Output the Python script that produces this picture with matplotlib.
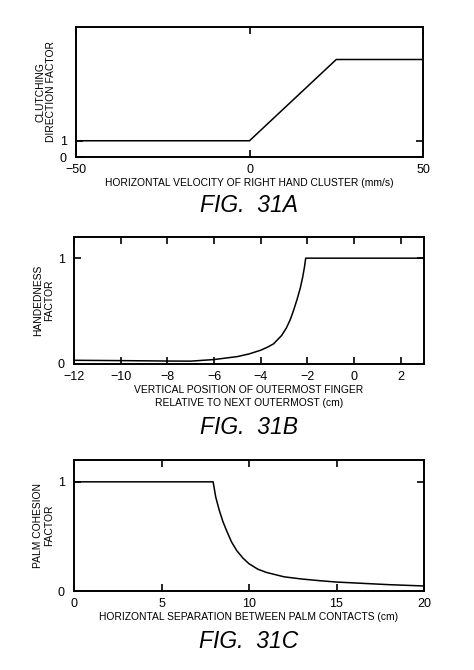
import matplotlib
matplotlib.use("Agg")
import matplotlib.pyplot as plt

plt.rcParams['font.family'] = ['Liberation Sans', 'DejaVu Sans']

# FIG. 31A - clutching direction factor vs horizontal velocity
vel = [-50, 0, 25, 50]
clutch = [1, 1, 6, 6]

# FIG. 31B - handedness factor vs vertical position
vpos = [-12, -10, -8, -7, -6, -5, -4.5, -4, -3.7, -3.45, -3.1, -2.9,
        -2.73, -2.6, -2.44, -2.3, -2.2, -2.12, -2.07, 3]
handed = [0.035, 0.032, 0.028, 0.027, 0.042, 0.07, 0.095, 0.13, 0.16,
          0.19, 0.27, 0.34, 0.42, 0.5, 0.61, 0.72, 0.82, 0.92, 1.0, 1.0]

# FIG. 31C - palm cohesion factor vs horizontal separation
sep = [0, 7.95, 8.1, 8.3, 8.5, 8.7, 9.0, 9.3, 9.66, 10.0, 10.5, 11.0,
       12.0, 13.0, 14.0, 15.0, 16.5, 18.0, 20.0]
cohesion = [1, 1, 0.86, 0.74, 0.64, 0.56, 0.45, 0.37, 0.30, 0.25, 0.2,
            0.17, 0.13, 0.11, 0.095, 0.082, 0.07, 0.058, 0.046]

LABEL_FS, TICK_FS, FIG_FS = 7.4, 9, 16.5

W, H = 474, 670
fig = plt.figure(figsize=(W / 100, H / 100), dpi=100)


def px_axes(x0, y0, x1, y1):
    return fig.add_axes([x0 / W, 1 - y1 / H, (x1 - x0) / W, (y1 - y0) / H])


def style(ax):
    for s in ax.spines.values():
        s.set_linewidth(1.4)
    ax.tick_params(direction='in', length=5, width=1.2, top=True, right=True,
                   labelsize=TICK_FS)
    ax.tick_params(axis='x', pad=5)
    ax.tick_params(axis='y', pad=6.5)


panels = [
    dict(box=(76, 27, 423, 157), x=vel, y=clutch, xlim=(-50, 50), ylim=(0, 8),
         xticks=[-50, 0, 50], ylabel="CLUTCHING\nDIRECTION FACTOR",
         xlabel="HORIZONTAL VELOCITY OF RIGHT HAND CLUSTER (mm/s)",
         fig="FIG.  31A", figy=205),
    dict(box=(74, 237, 424, 364), x=vpos, y=handed, xlim=(-12, 3), ylim=(0, 1.2),
         xticks=[-12, -10, -8, -6, -4, -2, 0, 2], ylabel="HANDEDNESS\nFACTOR",
         xlabel="VERTICAL POSITION OF OUTERMOST FINGER\nRELATIVE TO NEXT OUTERMOST (cm)",
         fig="FIG.  31B", figy=427),
    dict(box=(74, 460, 424, 591), x=sep, y=cohesion, xlim=(0, 20), ylim=(0, 1.2),
         xticks=[0, 5, 10, 15, 20], ylabel="PALM COHESION\nFACTOR",
         xlabel="HORIZONTAL SEPARATION BETWEEN PALM CONTACTS (cm)",
         fig="FIG.  31C", figy=642),
]

for p in panels:
    ax = px_axes(*p['box'])
    ax.plot(p['x'], p['y'], color='black', lw=1.1)
    ax.set_xlim(*p['xlim'])
    ax.set_ylim(*p['ylim'])
    ax.set_xticks(p['xticks'])
    ax.set_yticks([0, 1])
    ax.set_yticklabels(['0', '1'])
    style(ax)
    ax.set_ylabel(p['ylabel'], fontsize=LABEL_FS, linespacing=1.05, labelpad=3)
    ax.set_xlabel(p['xlabel'], fontsize=LABEL_FS, linespacing=1.4, labelpad=1.5)
    fig.text(0.5 * (p['box'][0] + p['box'][2]) / W, 1 - p['figy'] / H, p['fig'],
             fontsize=FIG_FS, style='italic', ha='center', va='center')

fig.savefig("out.png", dpi=100)
